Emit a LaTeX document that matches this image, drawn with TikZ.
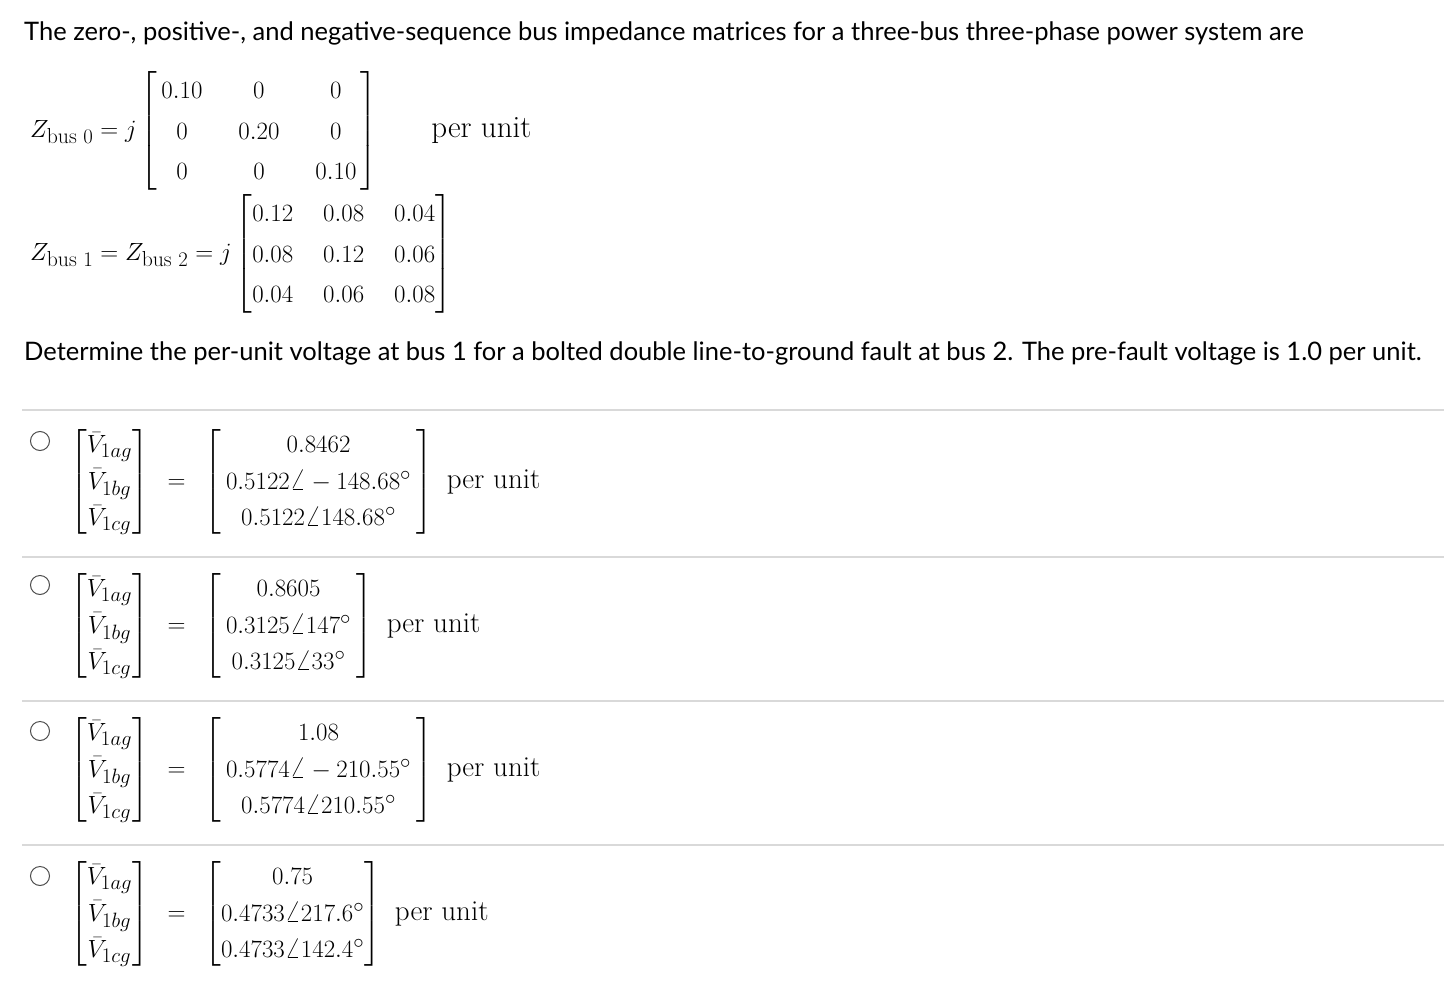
\documentclass[tikz,border=0pt]{standalone}
\usepackage{amsmath}
\usepackage{fontspec}
\newfontfamily\lato{Lato}
\tikzset{txt/.style={anchor=west,inner sep=0pt,font=\lato\fontsize{25.5}{30}\selectfont},
mth/.style={anchor=west,inner sep=0pt,font=\fontsize{31}{35}\selectfont},
opt/.style={anchor=west,inner sep=0pt,font=\fontsize{29}{33}\selectfont},
sep/.style={draw=black!15,line width=1.2pt},
radio/.style={circle,draw=black!70,line width=1pt,minimum size=19pt,inner sep=0pt}}
\begin{document}
\begin{tikzpicture}[x=1pt,y=-1pt]
\useasboundingbox (0,0) rectangle (1444,996);
\node[txt] (t1) at (24,33) {The zero-, positive-, and negative-sequence bus impedance matrices for a three-bus three-phase power system are};
\node[mth] (z0) at (30,131) {$Z_{\text{bus }0}=j\left[\renewcommand\arraystretch{1.15}\begin{array}{@{\,}c@{\hspace{36pt}}c@{\hspace{36pt}}c@{\,}}0.10&0&0\\0&0.20&0\\0&0&0.10\end{array}\right]\hspace{50pt}\text{per unit}$};
\node[mth] (z1) at (30,254) {$Z_{\text{bus }1}=Z_{\text{bus }2}=j\left[\renewcommand\arraystretch{1.15}\begin{array}{@{}c@{\hspace{30pt}}c@{\hspace{30pt}}c@{}}0.12&0.08&0.04\\0.08&0.12&0.06\\0.04&0.06&0.08\end{array}\right]$};
\node[txt] (t2) at (24,353) {Determine the per-unit voltage at bus 1 for a bolted double line-to-ground fault at bus 2. The pre-fault voltage is 1.0 per unit.};
\foreach \y in {410,557,701,845} \draw[sep] (22,\y) -- (1444,\y);
\foreach \n/\y in {a/441,b/585,c/731,d/876} \node[radio] (r\n) at (40,\y) {};
\def\vv{\left[\renewcommand\arraystretch{1.1}\begin{array}{@{}c@{}}\bar V_{1ag}\\ \bar V_{1bg}\\ \bar V_{1cg}\end{array}\right]\hspace{12pt}=\hspace{12pt}}
\node[opt] (oa) at (70,482) {$\vv\left[\renewcommand\arraystretch{1.1}\begin{array}{c}0.8462\\0.5122\angle-148.68^\circ\\0.5122\angle148.68^\circ\end{array}\right]\hspace{10pt}\text{per unit}$};
\node[opt] (ob) at (70,626) {$\vv\left[\renewcommand\arraystretch{1.1}\begin{array}{c}0.8605\\0.3125\angle147^\circ\\0.3125\angle33^\circ\end{array}\right]\hspace{10pt}\text{per unit}$};
\node[opt] (oc) at (70,770) {$\vv\left[\renewcommand\arraystretch{1.1}\begin{array}{c}1.08\\0.5774\angle-210.55^\circ\\0.5774\angle210.55^\circ\end{array}\right]\hspace{10pt}\text{per unit}$};
\node[opt] (od) at (70,914) {$\vv\left[\renewcommand\arraystretch{1.1}\begin{array}{@{}c@{}}0.75\\0.4733\angle217.6^\circ\\0.4733\angle142.4^\circ\end{array}\right]\hspace{10pt}\text{per unit}$};
\end{tikzpicture}
\end{document}
